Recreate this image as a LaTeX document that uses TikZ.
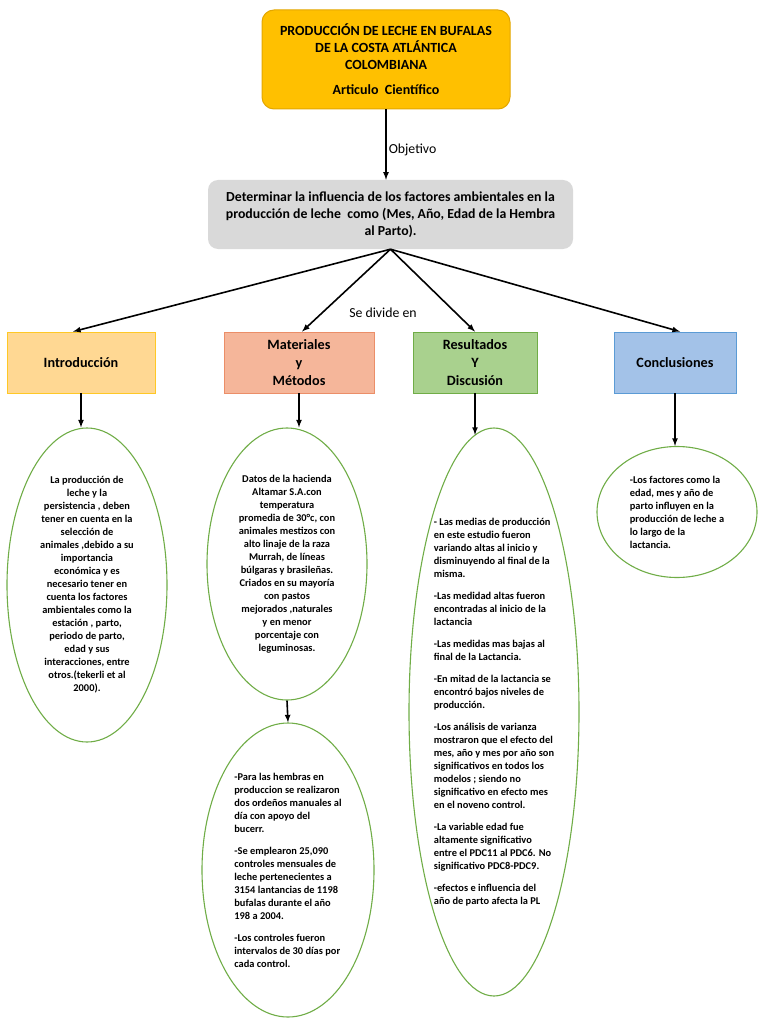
\documentclass[tikz,border=0pt]{standalone}
\usepackage{fontspec}
\setmainfont{Carlito}
\usepackage{tikz}
\usepgflibrary{arrows}
\usetikzlibrary{shapes}
\usetikzlibrary{calc}

\definecolor{titlefill}{HTML}{FFC000}
\definecolor{titleline}{HTML}{E3A600}
\definecolor{objfill}{HTML}{D9D9D9}
\definecolor{introfill}{HTML}{FFD893}
\definecolor{introline}{HTML}{FFC825}
\definecolor{matfill}{HTML}{F5B69A}
\definecolor{matline}{HTML}{EB8E68}
\definecolor{resfill}{HTML}{A9D18E}
\definecolor{resline}{HTML}{70AD47}
\definecolor{confill}{HTML}{A3C2E8}
\definecolor{conline}{HTML}{5B9BD5}
\definecolor{ellline}{HTML}{70AD47}

\begin{document}
\begin{tikzpicture}[x=1pt,y=-1pt,
  arr/.style={-latex,line width=1.6pt},
  headbox/.style={draw,line width=0.8pt,minimum height=61pt,align=center,
    font=\fontsize{14.2}{18}\selectfont\bfseries},
  ellbox/.style={ellipse,draw=ellline,line width=1.1pt,fill=white,inner sep=0pt,
    font=\fontsize{10.4}{13}\selectfont\bfseries},
  lbl/.style={font=\fontsize{13.8}{15}\selectfont}]
\useasboundingbox (0,0) rectangle (768,1024);
% title and objective
\node[draw=titleline,fill=titlefill,line width=1pt,rounded corners=12pt,
  minimum width=248pt,minimum height=99pt,align=center,
  font=\fontsize{14}{17}\selectfont\bfseries] (title) at (386,59.5)
  {PRODUCCIÓN DE LECHE EN BUFALAS\\DE LA COSTA ATLÁNTICA\\COLOMBIANA\\[8pt]Articulo\ \ Científico};
\node[fill=objfill,rounded corners=10pt,minimum width=365pt,minimum height=69pt,
  align=center,font=\fontsize{13.8}{17}\selectfont\bfseries] (obj) at (390.5,214.5)
  {Determinar la influencia de los factores ambientales en la\\producción de leche\ \ como (Mes, Año, Edad de la Hembra\\al Parto).};
\draw[arr] (title.south) -- (title.south |- obj.north)
  node[lbl,pos=0.57,right,inner sep=2pt] (lblobj) {Objetivo};
% the four parts
\node[headbox,fill=introfill,draw=introline,minimum width=148pt] (intro) at (81,362.5) {Introducción};
\node[headbox,fill=matfill,draw=matline,minimum width=150pt] (mat) at (299,362.5) {Materiales\\y\\Métodos};
\node[headbox,fill=resfill,draw=resline,minimum width=124pt] (res) at (475,362.5) {Resultados\\Y\\Discusión};
\node[headbox,fill=confill,draw=conline,minimum width=122pt] (con) at (675,362.5) {Conclusiones};
\node[lbl] (lbldiv) at (383,313) {Se divide en};
\draw[arr] (obj.south) -- ([xshift=-8pt]intro.north);
\draw[arr] (obj.south) -- ([xshift=3pt]mat.north);
\draw[arr] (obj.south) -- (res.north);
\draw[arr] (obj.south) -- ([xshift=5pt]con.north);
%     ellipses
\node[ellbox,minimum width=160pt,minimum height=314pt,align=center] (introell) at (87,585)
  {La producción de\\leche y la\\persistencia , deben\\tener en cuenta en la\\selección de\\animales ,debido a su\\importancia\\económica y es\\necesario tener en\\cuenta los factores\\ambientales como la\\estación , parto,\\periodo de parto,\\edad y sus\\interacciones, entre\\otros.(tekerli et al\\2000).};
\node[ellbox,minimum width=160pt,minimum height=272pt,align=center] (matell) at (287,564)
  {Datos de la hacienda\\Altamar S.A.con\\temperatura\\promedia de 30°c, con\\animales mestizos con\\alto linaje de la raza\\Murrah, de líneas\\búlgaras y brasileñas.\\Criados en su mayoría\\con pastos\\mejorados ,naturales\\y en menor\\porcentaje con\\leguminosas.};
\node[ellbox,minimum width=172pt,minimum height=294pt,align=left] (matell2) at (288,870)
  {-Para las hembras en\\produccion se realizaron\\dos ordeños manuales al\\día con apoyo del\\bucerr.\\[9pt]
   -Se emplearon 25,090\\controles mensuales de\\leche pertenecientes a\\3154 lantancias de 1198\\bufalas durante el año\\198 a 2004.\\[9pt]
   -Los controles fueron\\intervalos de 30 días por\\cada control.};
\node[ellbox,minimum width=170pt,minimum height=568pt,align=left] (resell) at (494,712)
  {- Las medias de producción\\en este estudio fueron\\variando altas al inicio y\\disminuyendo al final de la\\misma.\\[9pt]
   -Las medidad altas fueron\\encontradas al inicio de la\\lactancia\\[9pt]
   -Las medidas mas bajas al\\final de la Lactancia.\\[9pt]
   -En mitad de la lactancia se\\encontró bajos niveles de\\producción.\\[9pt]
   -Los análisis de varianza\\mostraron que el efecto del\\mes, año y mes por año son\\significativos en todos los\\modelos ; siendo no\\significativo en efecto mes\\en el noveno control.\\[9pt]
   -La variable edad fue\\altamente significativo\\entre el PDC11 al PDC6. No\\significativo PDC8-PDC9.\\[9pt]
   -efectos e influencia del\\año de parto afecta la PL};
\node[ellbox,minimum width=160pt,minimum height=131pt,align=left] (conell) at (677,512)
  {-Los factores como la\\edad, mes y año de\\parto influyen en la\\producción de leche a\\lo largo de la\\lactancia.};
%     arrows down
\draw[arr] (intro.south) -- (intro.south |- introell.north);
\draw[arr] (mat.south) -- (mat.south |- matell.north);
\draw[arr] (res.south) -- (res.south |- resell.94);
\draw[arr] (con.south) -- (con.south |- conell.north);
\draw[arr] (matell.south) -- (matell2.north);
\end{tikzpicture}
\end{document}
